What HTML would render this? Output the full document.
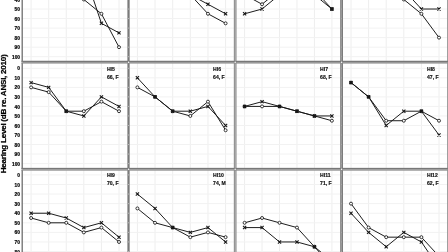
<!DOCTYPE html>
<html><head><meta charset="utf-8"><title>Audiograms</title><style>html,body{margin:0;padding:0;background:#fff;overflow:hidden}svg{display:block}</style></head><body>
<svg width="448" height="252" viewBox="0 0 448 252" font-family="Liberation Sans, Arial, sans-serif" font-weight="bold">
<rect width="448" height="252" fill="#fff"/>
<path d="M31.10 -44.90V62.15M48.68 -44.90V62.15M66.26 -44.90V62.15M83.84 -44.90V62.15M101.42 -44.90V62.15M119.00 -44.90V62.15" stroke="#eeeeee" stroke-width="1" fill="none"/>
<path d="M21.50 -38.65H128.50M21.50 -29.11H128.50M21.50 -19.58H128.50M21.50 -10.04H128.50M21.50 -0.51H128.50M21.50 9.02H128.50M21.50 18.56H128.50M21.50 28.10H128.50M21.50 37.63H128.50M21.50 47.16H128.50M21.50 56.70H128.50" stroke="#f2f2f2" stroke-width="1" fill="none"/>
<rect x="21.55" y="-44.90" width="1.30" height="107.05" fill="#6e6e6e"/>
<rect x="127.40" y="-44.90" width="1.60" height="107.05" fill="#7a7a7a"/>
<rect x="21.50" y="-44.90" width="107.00" height="1.4" fill="#8c8c8c"/>
<rect x="21.50" y="60.75" width="107.00" height="1.4" fill="#787878"/>
<polyline points="66.26,-14.81 83.84,-0.51 101.42,13.79 119.00,47.16" fill="none" stroke="#161616" stroke-width="0.97"/>
<polyline points="66.26,-29.11 83.84,-29.11 101.42,23.33 119.00,32.86" fill="none" stroke="#161616" stroke-width="0.97"/>
<circle cx="66.26" cy="-14.81" r="1.5" fill="#fff" stroke="#161616" stroke-width="0.85"/>
<circle cx="83.84" cy="-0.51" r="1.5" fill="#fff" stroke="#161616" stroke-width="0.85"/>
<circle cx="101.42" cy="13.79" r="1.5" fill="#fff" stroke="#161616" stroke-width="0.85"/>
<circle cx="119.00" cy="47.16" r="1.5" fill="#fff" stroke="#161616" stroke-width="0.85"/>
<path d="M64.66 -30.71L67.86 -27.51M64.66 -27.51L67.86 -30.71" stroke="#161616" stroke-width="1.05" fill="none"/>
<path d="M82.24 -30.71L85.44 -27.51M82.24 -27.51L85.44 -30.71" stroke="#161616" stroke-width="1.05" fill="none"/>
<path d="M99.82 21.73L103.02 24.93M99.82 24.93L103.02 21.73" stroke="#161616" stroke-width="1.05" fill="none"/>
<path d="M117.40 31.26L120.60 34.46M117.40 34.46L120.60 31.26" stroke="#161616" stroke-width="1.05" fill="none"/>
<text x="106.90" y="-36.50" font-size="5.1" fill="#111" stroke="#111" stroke-width="0.15">HI1</text>
<path d="M137.40 -44.90V62.15M155.04 -44.90V62.15M172.68 -44.90V62.15M190.32 -44.90V62.15M207.96 -44.90V62.15M225.60 -44.90V62.15" stroke="#eeeeee" stroke-width="1" fill="none"/>
<path d="M128.50 -38.65H235.10M128.50 -29.11H235.10M128.50 -19.58H235.10M128.50 -10.04H235.10M128.50 -0.51H235.10M128.50 9.02H235.10M128.50 18.56H235.10M128.50 28.10H235.10M128.50 37.63H235.10M128.50 47.16H235.10M128.50 56.70H235.10" stroke="#f2f2f2" stroke-width="1" fill="none"/>
<rect x="129.00" y="-44.90" width="1.00" height="107.05" fill="#a8a8a8"/>
<rect x="233.80" y="-44.90" width="1.40" height="107.05" fill="#949494"/>
<rect x="128.50" y="-44.90" width="106.60" height="1.4" fill="#8c8c8c"/>
<rect x="128.50" y="60.75" width="106.60" height="1.4" fill="#787878"/>
<polyline points="190.32,-5.28 207.96,13.79 225.60,23.33" fill="none" stroke="#161616" stroke-width="0.97"/>
<polyline points="190.32,-5.28 207.96,4.26 225.60,13.79" fill="none" stroke="#161616" stroke-width="0.97"/>
<circle cx="190.32" cy="-5.28" r="1.5" fill="#fff" stroke="#161616" stroke-width="0.85"/>
<circle cx="207.96" cy="13.79" r="1.5" fill="#fff" stroke="#161616" stroke-width="0.85"/>
<circle cx="225.60" cy="23.33" r="1.5" fill="#fff" stroke="#161616" stroke-width="0.85"/>
<path d="M188.72 -6.88L191.92 -3.68M188.72 -3.68L191.92 -6.88" stroke="#161616" stroke-width="1.05" fill="none"/>
<rect x="188.92" y="-6.68" width="2.8" height="2.8" fill="#161616"/>
<path d="M206.36 2.66L209.56 5.86M206.36 5.86L209.56 2.66" stroke="#161616" stroke-width="1.05" fill="none"/>
<path d="M224.00 12.19L227.20 15.39M224.00 15.39L227.20 12.19" stroke="#161616" stroke-width="1.05" fill="none"/>
<text x="213.10" y="-36.50" font-size="5.1" fill="#111" stroke="#111" stroke-width="0.15">HI2</text>
<path d="M244.60 -44.90V62.15M262.06 -44.90V62.15M279.52 -44.90V62.15M296.98 -44.90V62.15M314.44 -44.90V62.15M331.90 -44.90V62.15" stroke="#eeeeee" stroke-width="1" fill="none"/>
<path d="M235.10 -38.65H341.60M235.10 -29.11H341.60M235.10 -19.58H341.60M235.10 -10.04H341.60M235.10 -0.51H341.60M235.10 9.02H341.60M235.10 18.56H341.60M235.10 28.10H341.60M235.10 37.63H341.60M235.10 47.16H341.60M235.10 56.70H341.60" stroke="#f2f2f2" stroke-width="1" fill="none"/>
<rect x="235.20" y="-44.90" width="1.40" height="107.05" fill="#989898"/>
<rect x="340.20" y="-44.90" width="1.40" height="107.05" fill="#7a7a7a"/>
<rect x="235.10" y="-44.90" width="106.50" height="1.4" fill="#8c8c8c"/>
<rect x="235.10" y="60.75" width="106.50" height="1.4" fill="#787878"/>
<polyline points="244.60,-5.28 262.06,4.26 279.52,-10.04" fill="none" stroke="#161616" stroke-width="0.97"/>
<polyline points="314.44,-5.28 331.90,9.02" fill="none" stroke="#161616" stroke-width="0.97"/>
<polyline points="244.60,13.79 262.06,9.02 279.52,-5.28" fill="none" stroke="#161616" stroke-width="0.97"/>
<polyline points="314.44,-10.04 331.90,9.02" fill="none" stroke="#161616" stroke-width="0.97"/>
<circle cx="244.60" cy="-5.28" r="1.5" fill="#fff" stroke="#161616" stroke-width="0.85"/>
<circle cx="262.06" cy="4.26" r="1.5" fill="#fff" stroke="#161616" stroke-width="0.85"/>
<circle cx="279.52" cy="-10.04" r="1.5" fill="#fff" stroke="#161616" stroke-width="0.85"/>
<circle cx="314.44" cy="-5.28" r="1.5" fill="#fff" stroke="#161616" stroke-width="0.85"/>
<circle cx="331.90" cy="9.02" r="1.5" fill="#fff" stroke="#161616" stroke-width="0.85"/>
<path d="M243.00 12.19L246.20 15.39M243.00 15.39L246.20 12.19" stroke="#161616" stroke-width="1.05" fill="none"/>
<path d="M260.46 7.42L263.66 10.62M260.46 10.62L263.66 7.42" stroke="#161616" stroke-width="1.05" fill="none"/>
<path d="M277.92 -6.88L281.12 -3.68M277.92 -3.68L281.12 -6.88" stroke="#161616" stroke-width="1.05" fill="none"/>
<path d="M312.84 -11.64L316.04 -8.44M312.84 -8.44L316.04 -11.64" stroke="#161616" stroke-width="1.05" fill="none"/>
<path d="M330.30 7.42L333.50 10.62M330.30 10.62L333.50 7.42" stroke="#161616" stroke-width="1.05" fill="none"/>
<rect x="330.50" y="7.62" width="2.8" height="2.8" fill="#161616"/>
<text x="320.10" y="-36.50" font-size="5.1" fill="#111" stroke="#111" stroke-width="0.15">HI3</text>
<path d="M351.00 -44.90V62.15M368.60 -44.90V62.15M386.20 -44.90V62.15M403.80 -44.90V62.15M421.40 -44.90V62.15M439.00 -44.90V62.15" stroke="#eeeeee" stroke-width="1" fill="none"/>
<path d="M341.60 -38.65H448.00M341.60 -29.11H448.00M341.60 -19.58H448.00M341.60 -10.04H448.00M341.60 -0.51H448.00M341.60 9.02H448.00M341.60 18.56H448.00M341.60 28.10H448.00M341.60 37.63H448.00M341.60 47.16H448.00M341.60 56.70H448.00" stroke="#f2f2f2" stroke-width="1" fill="none"/>
<rect x="341.60" y="-44.90" width="1.40" height="107.05" fill="#7c7c7c"/>
<rect x="447.20" y="-44.90" width="0.80" height="107.05" fill="#888888"/>
<rect x="341.60" y="-44.90" width="106.40" height="1.4" fill="#8c8c8c"/>
<rect x="341.60" y="60.75" width="106.40" height="1.4" fill="#787878"/>
<polyline points="386.20,-14.81 403.80,-0.51 421.40,13.79 439.00,37.63" fill="none" stroke="#161616" stroke-width="0.97"/>
<polyline points="403.80,-10.04 421.40,9.02 439.00,9.02" fill="none" stroke="#161616" stroke-width="0.97"/>
<circle cx="386.20" cy="-14.81" r="1.5" fill="#fff" stroke="#161616" stroke-width="0.85"/>
<circle cx="403.80" cy="-0.51" r="1.5" fill="#fff" stroke="#161616" stroke-width="0.85"/>
<circle cx="421.40" cy="13.79" r="1.5" fill="#fff" stroke="#161616" stroke-width="0.85"/>
<circle cx="439.00" cy="37.63" r="1.5" fill="#fff" stroke="#161616" stroke-width="0.85"/>
<path d="M402.20 -11.64L405.40 -8.44M402.20 -8.44L405.40 -11.64" stroke="#161616" stroke-width="1.05" fill="none"/>
<path d="M419.80 7.42L423.00 10.62M419.80 10.62L423.00 7.42" stroke="#161616" stroke-width="1.05" fill="none"/>
<path d="M437.40 7.42L440.60 10.62M437.40 10.62L440.60 7.42" stroke="#161616" stroke-width="1.05" fill="none"/>
<text x="427.00" y="-36.50" font-size="5.1" fill="#111" stroke="#111" stroke-width="0.15">HI4</text>
<path d="M31.10 62.15V169.25M48.68 62.15V169.25M66.26 62.15V169.25M83.84 62.15V169.25M101.42 62.15V169.25M119.00 62.15V169.25" stroke="#eeeeee" stroke-width="1" fill="none"/>
<path d="M21.50 68.30H128.50M21.50 77.83H128.50M21.50 87.36H128.50M21.50 96.89H128.50M21.50 106.42H128.50M21.50 115.95H128.50M21.50 125.48H128.50M21.50 135.01H128.50M21.50 144.54H128.50M21.50 154.07H128.50M21.50 163.60H128.50" stroke="#f2f2f2" stroke-width="1" fill="none"/>
<rect x="21.55" y="62.15" width="1.30" height="107.10" fill="#6e6e6e"/>
<rect x="127.40" y="62.15" width="1.60" height="107.10" fill="#7a7a7a"/>
<rect x="21.50" y="62.15" width="107.00" height="1.4" fill="#8c8c8c"/>
<rect x="21.50" y="167.85" width="107.00" height="1.4" fill="#787878"/>
<polyline points="31.10,87.36 48.68,92.12 66.26,111.19 83.84,111.19 101.42,101.66 119.00,111.19" fill="none" stroke="#161616" stroke-width="0.97"/>
<polyline points="31.10,82.59 48.68,87.36 66.26,111.19 83.84,115.95 101.42,96.89 119.00,106.42" fill="none" stroke="#161616" stroke-width="0.97"/>
<circle cx="31.10" cy="87.36" r="1.5" fill="#fff" stroke="#161616" stroke-width="0.85"/>
<circle cx="48.68" cy="92.12" r="1.5" fill="#fff" stroke="#161616" stroke-width="0.85"/>
<circle cx="66.26" cy="111.19" r="1.5" fill="#fff" stroke="#161616" stroke-width="0.85"/>
<circle cx="83.84" cy="111.19" r="1.5" fill="#fff" stroke="#161616" stroke-width="0.85"/>
<circle cx="101.42" cy="101.66" r="1.5" fill="#fff" stroke="#161616" stroke-width="0.85"/>
<circle cx="119.00" cy="111.19" r="1.5" fill="#fff" stroke="#161616" stroke-width="0.85"/>
<path d="M29.50 81.00L32.70 84.19M29.50 84.19L32.70 81.00" stroke="#161616" stroke-width="1.05" fill="none"/>
<path d="M47.08 85.76L50.28 88.96M47.08 88.96L50.28 85.76" stroke="#161616" stroke-width="1.05" fill="none"/>
<path d="M64.66 109.59L67.86 112.78M64.66 112.78L67.86 109.59" stroke="#161616" stroke-width="1.05" fill="none"/>
<rect x="64.86" y="109.78" width="2.8" height="2.8" fill="#161616"/>
<path d="M82.24 114.35L85.44 117.55M82.24 117.55L85.44 114.35" stroke="#161616" stroke-width="1.05" fill="none"/>
<path d="M99.82 95.29L103.02 98.49M99.82 98.49L103.02 95.29" stroke="#161616" stroke-width="1.05" fill="none"/>
<path d="M117.40 104.82L120.60 108.02M117.40 108.02L120.60 104.82" stroke="#161616" stroke-width="1.05" fill="none"/>
<text x="106.90" y="70.55" font-size="5.1" fill="#111" stroke="#111" stroke-width="0.15">HI5</text>
<text x="106.90" y="78.95" font-size="5.1" fill="#111" stroke="#111" stroke-width="0.15">66, F</text>
<path d="M137.40 62.15V169.25M155.04 62.15V169.25M172.68 62.15V169.25M190.32 62.15V169.25M207.96 62.15V169.25M225.60 62.15V169.25" stroke="#eeeeee" stroke-width="1" fill="none"/>
<path d="M128.50 68.30H235.10M128.50 77.83H235.10M128.50 87.36H235.10M128.50 96.89H235.10M128.50 106.42H235.10M128.50 115.95H235.10M128.50 125.48H235.10M128.50 135.01H235.10M128.50 144.54H235.10M128.50 154.07H235.10M128.50 163.60H235.10" stroke="#f2f2f2" stroke-width="1" fill="none"/>
<rect x="129.00" y="62.15" width="1.00" height="107.10" fill="#a8a8a8"/>
<rect x="233.80" y="62.15" width="1.40" height="107.10" fill="#949494"/>
<rect x="128.50" y="62.15" width="106.60" height="1.4" fill="#8c8c8c"/>
<rect x="128.50" y="167.85" width="106.60" height="1.4" fill="#787878"/>
<polyline points="137.40,87.36 155.04,96.89 172.68,111.19 190.32,115.95 207.96,101.66 225.60,130.25" fill="none" stroke="#161616" stroke-width="0.97"/>
<polyline points="137.40,77.83 155.04,96.89 172.68,111.19 190.32,111.19 207.96,106.42 225.60,125.48" fill="none" stroke="#161616" stroke-width="0.97"/>
<circle cx="137.40" cy="87.36" r="1.5" fill="#fff" stroke="#161616" stroke-width="0.85"/>
<circle cx="155.04" cy="96.89" r="1.5" fill="#fff" stroke="#161616" stroke-width="0.85"/>
<circle cx="172.68" cy="111.19" r="1.5" fill="#fff" stroke="#161616" stroke-width="0.85"/>
<circle cx="190.32" cy="115.95" r="1.5" fill="#fff" stroke="#161616" stroke-width="0.85"/>
<circle cx="207.96" cy="101.66" r="1.5" fill="#fff" stroke="#161616" stroke-width="0.85"/>
<circle cx="225.60" cy="130.25" r="1.5" fill="#fff" stroke="#161616" stroke-width="0.85"/>
<path d="M135.80 76.23L139.00 79.43M135.80 79.43L139.00 76.23" stroke="#161616" stroke-width="1.05" fill="none"/>
<path d="M153.44 95.29L156.64 98.49M153.44 98.49L156.64 95.29" stroke="#161616" stroke-width="1.05" fill="none"/>
<rect x="153.64" y="95.49" width="2.8" height="2.8" fill="#161616"/>
<path d="M171.08 109.59L174.28 112.78M171.08 112.78L174.28 109.59" stroke="#161616" stroke-width="1.05" fill="none"/>
<rect x="171.28" y="109.78" width="2.8" height="2.8" fill="#161616"/>
<path d="M188.72 109.59L191.92 112.78M188.72 112.78L191.92 109.59" stroke="#161616" stroke-width="1.05" fill="none"/>
<path d="M206.36 104.82L209.56 108.02M206.36 108.02L209.56 104.82" stroke="#161616" stroke-width="1.05" fill="none"/>
<path d="M224.00 123.88L227.20 127.08M224.00 127.08L227.20 123.88" stroke="#161616" stroke-width="1.05" fill="none"/>
<text x="213.10" y="70.55" font-size="5.1" fill="#111" stroke="#111" stroke-width="0.15">HI6</text>
<text x="213.10" y="78.95" font-size="5.1" fill="#111" stroke="#111" stroke-width="0.15">64, F</text>
<path d="M244.60 62.15V169.25M262.06 62.15V169.25M279.52 62.15V169.25M296.98 62.15V169.25M314.44 62.15V169.25M331.90 62.15V169.25" stroke="#eeeeee" stroke-width="1" fill="none"/>
<path d="M235.10 68.30H341.60M235.10 77.83H341.60M235.10 87.36H341.60M235.10 96.89H341.60M235.10 106.42H341.60M235.10 115.95H341.60M235.10 125.48H341.60M235.10 135.01H341.60M235.10 144.54H341.60M235.10 154.07H341.60M235.10 163.60H341.60" stroke="#f2f2f2" stroke-width="1" fill="none"/>
<rect x="235.20" y="62.15" width="1.40" height="107.10" fill="#989898"/>
<rect x="340.20" y="62.15" width="1.40" height="107.10" fill="#7a7a7a"/>
<rect x="235.10" y="62.15" width="106.50" height="1.4" fill="#8c8c8c"/>
<rect x="235.10" y="167.85" width="106.50" height="1.4" fill="#787878"/>
<polyline points="244.60,106.42 262.06,106.42 279.52,106.42 296.98,111.19 314.44,115.95 331.90,120.72" fill="none" stroke="#161616" stroke-width="0.97"/>
<polyline points="244.60,106.42 262.06,101.66 279.52,106.42 296.98,111.19 314.44,115.95 331.90,115.95" fill="none" stroke="#161616" stroke-width="0.97"/>
<circle cx="244.60" cy="106.42" r="1.5" fill="#fff" stroke="#161616" stroke-width="0.85"/>
<circle cx="262.06" cy="106.42" r="1.5" fill="#fff" stroke="#161616" stroke-width="0.85"/>
<circle cx="279.52" cy="106.42" r="1.5" fill="#fff" stroke="#161616" stroke-width="0.85"/>
<circle cx="296.98" cy="111.19" r="1.5" fill="#fff" stroke="#161616" stroke-width="0.85"/>
<circle cx="314.44" cy="115.95" r="1.5" fill="#fff" stroke="#161616" stroke-width="0.85"/>
<circle cx="331.90" cy="120.72" r="1.5" fill="#fff" stroke="#161616" stroke-width="0.85"/>
<path d="M243.00 104.82L246.20 108.02M243.00 108.02L246.20 104.82" stroke="#161616" stroke-width="1.05" fill="none"/>
<rect x="243.20" y="105.02" width="2.8" height="2.8" fill="#161616"/>
<path d="M260.46 100.06L263.66 103.25M260.46 103.25L263.66 100.06" stroke="#161616" stroke-width="1.05" fill="none"/>
<path d="M277.92 104.82L281.12 108.02M277.92 108.02L281.12 104.82" stroke="#161616" stroke-width="1.05" fill="none"/>
<rect x="278.12" y="105.02" width="2.8" height="2.8" fill="#161616"/>
<path d="M295.38 109.59L298.58 112.78M295.38 112.78L298.58 109.59" stroke="#161616" stroke-width="1.05" fill="none"/>
<rect x="295.58" y="109.78" width="2.8" height="2.8" fill="#161616"/>
<path d="M312.84 114.35L316.04 117.55M312.84 117.55L316.04 114.35" stroke="#161616" stroke-width="1.05" fill="none"/>
<rect x="313.04" y="114.55" width="2.8" height="2.8" fill="#161616"/>
<path d="M330.30 114.35L333.50 117.55M330.30 117.55L333.50 114.35" stroke="#161616" stroke-width="1.05" fill="none"/>
<text x="320.10" y="70.55" font-size="5.1" fill="#111" stroke="#111" stroke-width="0.15">HI7</text>
<text x="320.10" y="78.95" font-size="5.1" fill="#111" stroke="#111" stroke-width="0.15">68, F</text>
<path d="M351.00 62.15V169.25M368.60 62.15V169.25M386.20 62.15V169.25M403.80 62.15V169.25M421.40 62.15V169.25M439.00 62.15V169.25" stroke="#eeeeee" stroke-width="1" fill="none"/>
<path d="M341.60 68.30H448.00M341.60 77.83H448.00M341.60 87.36H448.00M341.60 96.89H448.00M341.60 106.42H448.00M341.60 115.95H448.00M341.60 125.48H448.00M341.60 135.01H448.00M341.60 144.54H448.00M341.60 154.07H448.00M341.60 163.60H448.00" stroke="#f2f2f2" stroke-width="1" fill="none"/>
<rect x="341.60" y="62.15" width="1.40" height="107.10" fill="#7c7c7c"/>
<rect x="447.20" y="62.15" width="0.80" height="107.10" fill="#888888"/>
<rect x="341.60" y="62.15" width="106.40" height="1.4" fill="#8c8c8c"/>
<rect x="341.60" y="167.85" width="106.40" height="1.4" fill="#787878"/>
<polyline points="351.00,82.59 368.60,96.89 386.20,120.72 403.80,120.72 421.40,111.19 439.00,120.72" fill="none" stroke="#161616" stroke-width="0.97"/>
<polyline points="351.00,82.59 368.60,96.89 386.20,125.48 403.80,111.19 421.40,111.19 439.00,135.01" fill="none" stroke="#161616" stroke-width="0.97"/>
<circle cx="351.00" cy="82.59" r="1.5" fill="#fff" stroke="#161616" stroke-width="0.85"/>
<circle cx="368.60" cy="96.89" r="1.5" fill="#fff" stroke="#161616" stroke-width="0.85"/>
<circle cx="386.20" cy="120.72" r="1.5" fill="#fff" stroke="#161616" stroke-width="0.85"/>
<circle cx="403.80" cy="120.72" r="1.5" fill="#fff" stroke="#161616" stroke-width="0.85"/>
<circle cx="421.40" cy="111.19" r="1.5" fill="#fff" stroke="#161616" stroke-width="0.85"/>
<circle cx="439.00" cy="120.72" r="1.5" fill="#fff" stroke="#161616" stroke-width="0.85"/>
<path d="M349.40 81.00L352.60 84.19M349.40 84.19L352.60 81.00" stroke="#161616" stroke-width="1.05" fill="none"/>
<rect x="349.60" y="81.19" width="2.8" height="2.8" fill="#161616"/>
<path d="M367.00 95.29L370.20 98.49M367.00 98.49L370.20 95.29" stroke="#161616" stroke-width="1.05" fill="none"/>
<rect x="367.20" y="95.49" width="2.8" height="2.8" fill="#161616"/>
<path d="M384.60 123.88L387.80 127.08M384.60 127.08L387.80 123.88" stroke="#161616" stroke-width="1.05" fill="none"/>
<path d="M402.20 109.59L405.40 112.78M402.20 112.78L405.40 109.59" stroke="#161616" stroke-width="1.05" fill="none"/>
<path d="M419.80 109.59L423.00 112.78M419.80 112.78L423.00 109.59" stroke="#161616" stroke-width="1.05" fill="none"/>
<rect x="420.00" y="109.78" width="2.8" height="2.8" fill="#161616"/>
<path d="M437.40 133.41L440.60 136.61M437.40 136.61L440.60 133.41" stroke="#161616" stroke-width="1.05" fill="none"/>
<text x="427.00" y="70.55" font-size="5.1" fill="#111" stroke="#111" stroke-width="0.15">HI8</text>
<text x="427.00" y="78.95" font-size="5.1" fill="#111" stroke="#111" stroke-width="0.15">47, F</text>
<path d="M31.10 169.25V276.20M48.68 169.25V276.20M66.26 169.25V276.20M83.84 169.25V276.20M101.42 169.25V276.20M119.00 169.25V276.20" stroke="#eeeeee" stroke-width="1" fill="none"/>
<path d="M21.50 174.90H128.50M21.50 184.48H128.50M21.50 194.06H128.50M21.50 203.64H128.50M21.50 213.22H128.50M21.50 222.80H128.50M21.50 232.38H128.50M21.50 241.96H128.50M21.50 251.54H128.50M21.50 261.12H128.50M21.50 270.70H128.50" stroke="#f2f2f2" stroke-width="1" fill="none"/>
<rect x="21.55" y="169.25" width="1.30" height="106.95" fill="#6e6e6e"/>
<rect x="127.40" y="169.25" width="1.60" height="106.95" fill="#7a7a7a"/>
<rect x="21.50" y="169.25" width="107.00" height="1.4" fill="#8c8c8c"/>
<rect x="21.50" y="274.80" width="107.00" height="1.4" fill="#787878"/>
<polyline points="31.10,218.01 48.68,222.80 66.26,222.80 83.84,232.38 101.42,227.59 119.00,241.96" fill="none" stroke="#161616" stroke-width="0.97"/>
<polyline points="31.10,213.22 48.68,213.22 66.26,218.01 83.84,227.59 101.42,222.80 119.00,237.17" fill="none" stroke="#161616" stroke-width="0.97"/>
<circle cx="31.10" cy="218.01" r="1.5" fill="#fff" stroke="#161616" stroke-width="0.85"/>
<circle cx="48.68" cy="222.80" r="1.5" fill="#fff" stroke="#161616" stroke-width="0.85"/>
<circle cx="66.26" cy="222.80" r="1.5" fill="#fff" stroke="#161616" stroke-width="0.85"/>
<circle cx="83.84" cy="232.38" r="1.5" fill="#fff" stroke="#161616" stroke-width="0.85"/>
<circle cx="101.42" cy="227.59" r="1.5" fill="#fff" stroke="#161616" stroke-width="0.85"/>
<circle cx="119.00" cy="241.96" r="1.5" fill="#fff" stroke="#161616" stroke-width="0.85"/>
<path d="M29.50 211.62L32.70 214.82M29.50 214.82L32.70 211.62" stroke="#161616" stroke-width="1.05" fill="none"/>
<path d="M47.08 211.62L50.28 214.82M47.08 214.82L50.28 211.62" stroke="#161616" stroke-width="1.05" fill="none"/>
<path d="M64.66 216.41L67.86 219.61M64.66 219.61L67.86 216.41" stroke="#161616" stroke-width="1.05" fill="none"/>
<path d="M82.24 225.99L85.44 229.19M82.24 229.19L85.44 225.99" stroke="#161616" stroke-width="1.05" fill="none"/>
<path d="M99.82 221.20L103.02 224.40M99.82 224.40L103.02 221.20" stroke="#161616" stroke-width="1.05" fill="none"/>
<path d="M117.40 235.57L120.60 238.77M117.40 238.77L120.60 235.57" stroke="#161616" stroke-width="1.05" fill="none"/>
<text x="106.90" y="177.35" font-size="5.1" fill="#111" stroke="#111" stroke-width="0.15">HI9</text>
<text x="106.90" y="185.25" font-size="5.1" fill="#111" stroke="#111" stroke-width="0.15">70, F</text>
<path d="M137.40 169.25V276.20M155.04 169.25V276.20M172.68 169.25V276.20M190.32 169.25V276.20M207.96 169.25V276.20M225.60 169.25V276.20" stroke="#eeeeee" stroke-width="1" fill="none"/>
<path d="M128.50 174.90H235.10M128.50 184.48H235.10M128.50 194.06H235.10M128.50 203.64H235.10M128.50 213.22H235.10M128.50 222.80H235.10M128.50 232.38H235.10M128.50 241.96H235.10M128.50 251.54H235.10M128.50 261.12H235.10M128.50 270.70H235.10" stroke="#f2f2f2" stroke-width="1" fill="none"/>
<rect x="129.00" y="169.25" width="1.00" height="106.95" fill="#a8a8a8"/>
<rect x="233.80" y="169.25" width="1.40" height="106.95" fill="#949494"/>
<rect x="128.50" y="169.25" width="106.60" height="1.4" fill="#8c8c8c"/>
<rect x="128.50" y="274.80" width="106.60" height="1.4" fill="#787878"/>
<polyline points="137.40,208.43 155.04,222.80 172.68,227.59 190.32,237.17 207.96,232.38 225.60,237.17" fill="none" stroke="#161616" stroke-width="0.97"/>
<polyline points="137.40,194.06 155.04,208.43 172.68,227.59 190.32,232.38 207.96,227.59 225.60,241.96" fill="none" stroke="#161616" stroke-width="0.97"/>
<circle cx="137.40" cy="208.43" r="1.5" fill="#fff" stroke="#161616" stroke-width="0.85"/>
<circle cx="155.04" cy="222.80" r="1.5" fill="#fff" stroke="#161616" stroke-width="0.85"/>
<circle cx="172.68" cy="227.59" r="1.5" fill="#fff" stroke="#161616" stroke-width="0.85"/>
<circle cx="190.32" cy="237.17" r="1.5" fill="#fff" stroke="#161616" stroke-width="0.85"/>
<circle cx="207.96" cy="232.38" r="1.5" fill="#fff" stroke="#161616" stroke-width="0.85"/>
<circle cx="225.60" cy="237.17" r="1.5" fill="#fff" stroke="#161616" stroke-width="0.85"/>
<path d="M135.80 192.46L139.00 195.66M135.80 195.66L139.00 192.46" stroke="#161616" stroke-width="1.05" fill="none"/>
<path d="M153.44 206.83L156.64 210.03M153.44 210.03L156.64 206.83" stroke="#161616" stroke-width="1.05" fill="none"/>
<path d="M171.08 225.99L174.28 229.19M171.08 229.19L174.28 225.99" stroke="#161616" stroke-width="1.05" fill="none"/>
<rect x="171.28" y="226.19" width="2.8" height="2.8" fill="#161616"/>
<path d="M188.72 230.78L191.92 233.98M188.72 233.98L191.92 230.78" stroke="#161616" stroke-width="1.05" fill="none"/>
<path d="M206.36 225.99L209.56 229.19M206.36 229.19L209.56 225.99" stroke="#161616" stroke-width="1.05" fill="none"/>
<path d="M224.00 240.36L227.20 243.56M224.00 243.56L227.20 240.36" stroke="#161616" stroke-width="1.05" fill="none"/>
<text x="213.10" y="177.35" font-size="5.1" fill="#111" stroke="#111" stroke-width="0.15">HI10</text>
<text x="213.10" y="185.25" font-size="5.1" fill="#111" stroke="#111" stroke-width="0.15">74, M</text>
<path d="M244.60 169.25V276.20M262.06 169.25V276.20M279.52 169.25V276.20M296.98 169.25V276.20M314.44 169.25V276.20M331.90 169.25V276.20" stroke="#eeeeee" stroke-width="1" fill="none"/>
<path d="M235.10 174.90H341.60M235.10 184.48H341.60M235.10 194.06H341.60M235.10 203.64H341.60M235.10 213.22H341.60M235.10 222.80H341.60M235.10 232.38H341.60M235.10 241.96H341.60M235.10 251.54H341.60M235.10 261.12H341.60M235.10 270.70H341.60" stroke="#f2f2f2" stroke-width="1" fill="none"/>
<rect x="235.20" y="169.25" width="1.40" height="106.95" fill="#989898"/>
<rect x="340.20" y="169.25" width="1.40" height="106.95" fill="#7a7a7a"/>
<rect x="235.10" y="169.25" width="106.50" height="1.4" fill="#8c8c8c"/>
<rect x="235.10" y="274.80" width="106.50" height="1.4" fill="#787878"/>
<polyline points="244.60,222.80 262.06,218.01 279.52,222.80 296.98,227.59 314.44,246.75 331.90,265.91" fill="none" stroke="#161616" stroke-width="0.97"/>
<polyline points="244.60,227.59 262.06,227.59 279.52,241.96 296.98,241.96 314.44,246.75 331.90,261.12" fill="none" stroke="#161616" stroke-width="0.97"/>
<circle cx="244.60" cy="222.80" r="1.5" fill="#fff" stroke="#161616" stroke-width="0.85"/>
<circle cx="262.06" cy="218.01" r="1.5" fill="#fff" stroke="#161616" stroke-width="0.85"/>
<circle cx="279.52" cy="222.80" r="1.5" fill="#fff" stroke="#161616" stroke-width="0.85"/>
<circle cx="296.98" cy="227.59" r="1.5" fill="#fff" stroke="#161616" stroke-width="0.85"/>
<circle cx="314.44" cy="246.75" r="1.5" fill="#fff" stroke="#161616" stroke-width="0.85"/>
<circle cx="331.90" cy="265.91" r="1.5" fill="#fff" stroke="#161616" stroke-width="0.85"/>
<path d="M243.00 225.99L246.20 229.19M243.00 229.19L246.20 225.99" stroke="#161616" stroke-width="1.05" fill="none"/>
<path d="M260.46 225.99L263.66 229.19M260.46 229.19L263.66 225.99" stroke="#161616" stroke-width="1.05" fill="none"/>
<path d="M277.92 240.36L281.12 243.56M277.92 243.56L281.12 240.36" stroke="#161616" stroke-width="1.05" fill="none"/>
<path d="M295.38 240.36L298.58 243.56M295.38 243.56L298.58 240.36" stroke="#161616" stroke-width="1.05" fill="none"/>
<path d="M312.84 245.15L316.04 248.35M312.84 248.35L316.04 245.15" stroke="#161616" stroke-width="1.05" fill="none"/>
<rect x="313.04" y="245.35" width="2.8" height="2.8" fill="#161616"/>
<path d="M330.30 259.52L333.50 262.72M330.30 262.72L333.50 259.52" stroke="#161616" stroke-width="1.05" fill="none"/>
<text x="320.10" y="177.35" font-size="5.1" fill="#111" stroke="#111" stroke-width="0.15">HI11</text>
<text x="320.10" y="185.25" font-size="5.1" fill="#111" stroke="#111" stroke-width="0.15">71, F</text>
<path d="M351.00 169.25V276.20M368.60 169.25V276.20M386.20 169.25V276.20M403.80 169.25V276.20M421.40 169.25V276.20M439.00 169.25V276.20" stroke="#eeeeee" stroke-width="1" fill="none"/>
<path d="M341.60 174.90H448.00M341.60 184.48H448.00M341.60 194.06H448.00M341.60 203.64H448.00M341.60 213.22H448.00M341.60 222.80H448.00M341.60 232.38H448.00M341.60 241.96H448.00M341.60 251.54H448.00M341.60 261.12H448.00M341.60 270.70H448.00" stroke="#f2f2f2" stroke-width="1" fill="none"/>
<rect x="341.60" y="169.25" width="1.40" height="106.95" fill="#7c7c7c"/>
<rect x="447.20" y="169.25" width="0.80" height="106.95" fill="#888888"/>
<rect x="341.60" y="169.25" width="106.40" height="1.4" fill="#8c8c8c"/>
<rect x="341.60" y="274.80" width="106.40" height="1.4" fill="#787878"/>
<polyline points="351.00,203.64 368.60,227.59 386.20,237.17 403.80,237.17 421.40,237.17 439.00,256.33" fill="none" stroke="#161616" stroke-width="0.97"/>
<polyline points="351.00,213.22 368.60,232.38 386.20,246.75 403.80,232.38 421.40,241.96 439.00,267.83" fill="none" stroke="#161616" stroke-width="0.97"/>
<circle cx="351.00" cy="203.64" r="1.5" fill="#fff" stroke="#161616" stroke-width="0.85"/>
<circle cx="368.60" cy="227.59" r="1.5" fill="#fff" stroke="#161616" stroke-width="0.85"/>
<circle cx="386.20" cy="237.17" r="1.5" fill="#fff" stroke="#161616" stroke-width="0.85"/>
<circle cx="403.80" cy="237.17" r="1.5" fill="#fff" stroke="#161616" stroke-width="0.85"/>
<circle cx="421.40" cy="237.17" r="1.5" fill="#fff" stroke="#161616" stroke-width="0.85"/>
<circle cx="439.00" cy="256.33" r="1.5" fill="#fff" stroke="#161616" stroke-width="0.85"/>
<path d="M349.40 211.62L352.60 214.82M349.40 214.82L352.60 211.62" stroke="#161616" stroke-width="1.05" fill="none"/>
<path d="M367.00 230.78L370.20 233.98M367.00 233.98L370.20 230.78" stroke="#161616" stroke-width="1.05" fill="none"/>
<path d="M384.60 245.15L387.80 248.35M384.60 248.35L387.80 245.15" stroke="#161616" stroke-width="1.05" fill="none"/>
<path d="M402.20 230.78L405.40 233.98M402.20 233.98L405.40 230.78" stroke="#161616" stroke-width="1.05" fill="none"/>
<path d="M419.80 240.36L423.00 243.56M419.80 243.56L423.00 240.36" stroke="#161616" stroke-width="1.05" fill="none"/>
<path d="M437.40 266.23L440.60 269.43M437.40 269.43L440.60 266.23" stroke="#161616" stroke-width="1.05" fill="none"/>
<text x="427.00" y="177.35" font-size="5.1" fill="#111" stroke="#111" stroke-width="0.15">HI12</text>
<text x="427.00" y="185.25" font-size="5.1" fill="#111" stroke="#111" stroke-width="0.15">62, F</text>
<circle cx="128.6" cy="62.2" r="0.7" fill="#fff"/>
<circle cx="128.6" cy="169.3" r="0.7" fill="#fff"/>
<circle cx="235.2" cy="62.2" r="0.7" fill="#fff"/>
<circle cx="235.2" cy="169.3" r="0.7" fill="#fff"/>
<circle cx="341.6" cy="62.2" r="0.7" fill="#fff"/>
<circle cx="341.6" cy="169.3" r="0.7" fill="#fff"/>
<rect x="21.2" y="61.900000000000006" width="1.2" height="0.6" fill="#fff"/>
<rect x="21.2" y="169.0" width="1.2" height="0.6" fill="#fff"/>
<text transform="translate(19.95 -36.55) scale(0.95 1)" font-size="5.05" text-anchor="end" fill="#000" stroke="#000" stroke-width="0.2">0</text>
<text transform="translate(19.95 -27.01) scale(0.95 1)" font-size="5.05" text-anchor="end" fill="#000" stroke="#000" stroke-width="0.2">10</text>
<text transform="translate(19.95 -17.48) scale(0.95 1)" font-size="5.05" text-anchor="end" fill="#000" stroke="#000" stroke-width="0.2">20</text>
<text transform="translate(19.95 -7.94) scale(0.95 1)" font-size="5.05" text-anchor="end" fill="#000" stroke="#000" stroke-width="0.2">30</text>
<text transform="translate(19.95 1.59) scale(0.95 1)" font-size="5.05" text-anchor="end" fill="#000" stroke="#000" stroke-width="0.2">40</text>
<text transform="translate(19.95 11.12) scale(0.95 1)" font-size="5.05" text-anchor="end" fill="#000" stroke="#000" stroke-width="0.2">50</text>
<text transform="translate(19.95 20.66) scale(0.95 1)" font-size="5.05" text-anchor="end" fill="#000" stroke="#000" stroke-width="0.2">60</text>
<text transform="translate(19.95 30.20) scale(0.95 1)" font-size="5.05" text-anchor="end" fill="#000" stroke="#000" stroke-width="0.2">70</text>
<text transform="translate(19.95 39.73) scale(0.95 1)" font-size="5.05" text-anchor="end" fill="#000" stroke="#000" stroke-width="0.2">80</text>
<text transform="translate(19.95 49.27) scale(0.95 1)" font-size="5.05" text-anchor="end" fill="#000" stroke="#000" stroke-width="0.2">90</text>
<text transform="translate(19.95 58.80) scale(0.95 1)" font-size="5.05" text-anchor="end" fill="#000" stroke="#000" stroke-width="0.2">100</text>
<text transform="translate(19.95 70.40) scale(0.95 1)" font-size="5.05" text-anchor="end" fill="#000" stroke="#000" stroke-width="0.2">0</text>
<text transform="translate(19.95 79.93) scale(0.95 1)" font-size="5.05" text-anchor="end" fill="#000" stroke="#000" stroke-width="0.2">10</text>
<text transform="translate(19.95 89.46) scale(0.95 1)" font-size="5.05" text-anchor="end" fill="#000" stroke="#000" stroke-width="0.2">20</text>
<text transform="translate(19.95 98.99) scale(0.95 1)" font-size="5.05" text-anchor="end" fill="#000" stroke="#000" stroke-width="0.2">30</text>
<text transform="translate(19.95 108.52) scale(0.95 1)" font-size="5.05" text-anchor="end" fill="#000" stroke="#000" stroke-width="0.2">40</text>
<text transform="translate(19.95 118.05) scale(0.95 1)" font-size="5.05" text-anchor="end" fill="#000" stroke="#000" stroke-width="0.2">50</text>
<text transform="translate(19.95 127.58) scale(0.95 1)" font-size="5.05" text-anchor="end" fill="#000" stroke="#000" stroke-width="0.2">60</text>
<text transform="translate(19.95 137.11) scale(0.95 1)" font-size="5.05" text-anchor="end" fill="#000" stroke="#000" stroke-width="0.2">70</text>
<text transform="translate(19.95 146.64) scale(0.95 1)" font-size="5.05" text-anchor="end" fill="#000" stroke="#000" stroke-width="0.2">80</text>
<text transform="translate(19.95 156.17) scale(0.95 1)" font-size="5.05" text-anchor="end" fill="#000" stroke="#000" stroke-width="0.2">90</text>
<text transform="translate(19.95 165.70) scale(0.95 1)" font-size="5.05" text-anchor="end" fill="#000" stroke="#000" stroke-width="0.2">100</text>
<text transform="translate(19.95 177.00) scale(0.95 1)" font-size="5.05" text-anchor="end" fill="#000" stroke="#000" stroke-width="0.2">0</text>
<text transform="translate(19.95 186.58) scale(0.95 1)" font-size="5.05" text-anchor="end" fill="#000" stroke="#000" stroke-width="0.2">10</text>
<text transform="translate(19.95 196.16) scale(0.95 1)" font-size="5.05" text-anchor="end" fill="#000" stroke="#000" stroke-width="0.2">20</text>
<text transform="translate(19.95 205.74) scale(0.95 1)" font-size="5.05" text-anchor="end" fill="#000" stroke="#000" stroke-width="0.2">30</text>
<text transform="translate(19.95 215.32) scale(0.95 1)" font-size="5.05" text-anchor="end" fill="#000" stroke="#000" stroke-width="0.2">40</text>
<text transform="translate(19.95 224.90) scale(0.95 1)" font-size="5.05" text-anchor="end" fill="#000" stroke="#000" stroke-width="0.2">50</text>
<text transform="translate(19.95 234.48) scale(0.95 1)" font-size="5.05" text-anchor="end" fill="#000" stroke="#000" stroke-width="0.2">60</text>
<text transform="translate(19.95 244.06) scale(0.95 1)" font-size="5.05" text-anchor="end" fill="#000" stroke="#000" stroke-width="0.2">70</text>
<text transform="translate(19.95 253.64) scale(0.95 1)" font-size="5.05" text-anchor="end" fill="#000" stroke="#000" stroke-width="0.2">80</text>
<text transform="translate(19.95 263.22) scale(0.95 1)" font-size="5.05" text-anchor="end" fill="#000" stroke="#000" stroke-width="0.2">90</text>
<text transform="translate(19.95 272.80) scale(0.95 1)" font-size="5.05" text-anchor="end" fill="#000" stroke="#000" stroke-width="0.2">100</text>
<text transform="translate(6.05 113.9) rotate(-90)" font-size="8.1" letter-spacing="-0.263" text-anchor="middle" fill="#000" stroke="#000" stroke-width="0.25">Hearing Level (dB re. ANSI, 2010)</text>
</svg>
</body></html>
